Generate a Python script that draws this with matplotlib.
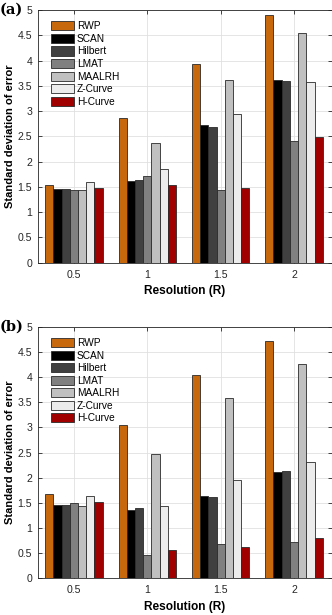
import numpy as np
import matplotlib
matplotlib.use("Agg")
import matplotlib.pyplot as plt

# ---- data ----
resolutions = [0.5, 1, 1.5, 2]
methods = ["RWP", "SCAN", "Hilbert", "LMAT", "MAALRH", "Z-Curve", "H-Curve"]
colors = ["#c8680c", "#000000", "#404040", "#808080", "#c0c0c0", "#ececec", "#a00000"]

# panel (a): one list per method, values at each resolution
std_a_rwp = [1.54, 2.86, 3.94, 4.90]
std_a_scan = [1.46, 1.61, 2.73, 3.62]
std_a_hilbert = [1.46, 1.64, 2.68, 3.60]
std_a_lmat = [1.44, 1.71, 1.44, 2.41]
std_a_maalrh = [1.44, 2.36, 3.62, 4.55]
std_a_zcurve = [1.59, 1.85, 2.95, 3.58]
std_a_hcurve = [1.47, 1.53, 1.48, 2.49]

# panel (b)
std_b_rwp = [1.68, 3.05, 4.04, 4.71]
std_b_scan = [1.46, 1.36, 1.64, 2.11]
std_b_hilbert = [1.46, 1.39, 1.62, 2.13]
std_b_lmat = [1.49, 0.46, 0.69, 0.73]
std_b_maalrh = [1.44, 2.47, 3.58, 4.25]
std_b_zcurve = [1.64, 1.44, 1.96, 2.32]
std_b_hcurve = [1.51, 0.57, 0.62, 0.80]

panel_a = [std_a_rwp, std_a_scan, std_a_hilbert, std_a_lmat,
           std_a_maalrh, std_a_zcurve, std_a_hcurve]
panel_b = [std_b_rwp, std_b_scan, std_b_hilbert, std_b_lmat,
           std_b_maalrh, std_b_zcurve, std_b_hcurve]

plt.rcParams['font.family'] = ['Liberation Sans', 'DejaVu Sans']

fig = plt.figure(figsize=(3.32, 6.15), dpi=100, facecolor="white")

BAR_W = 0.056


def draw_panel(ax, series, tag):
    x = np.array(resolutions)
    for i, (vals, name, col) in enumerate(zip(series, methods, colors)):
        ax.bar(x + (i - 3) * BAR_W, vals, BAR_W, color=col, edgecolor="#2a2a2a",
               linewidth=0.6, label=name, zorder=3)
    ax.set_xlim(0.253, 2.257)
    ax.set_ylim(0, 5)
    ax.set_xticks(resolutions)
    ax.set_xticklabels(["0.5", "1", "1.5", "2"])
    ax.set_yticks(np.arange(0, 5.01, 0.5))
    ax.set_yticklabels(["0", "0.5", "1", "1.5", "2", "2.5", "3", "3.5", "4", "4.5", "5"])
    ax.grid(True, color="#e0e0e0", linewidth=0.6, zorder=0)
    ax.tick_params(direction="in", length=3, width=0.6, labelsize=7.6,
                   top=True, right=True, pad=4, colors="#262626")
    ax.tick_params(axis="x", pad=5)
    for s in ax.spines.values():
        s.set_linewidth(0.6)
        s.set_color("#262626")
    ax.set_xlabel("Resolution (R)", fontsize=8.6, fontweight="bold", labelpad=4)
    ax.set_ylabel("Standard deviation of error", fontsize=8.0, fontweight="bold", labelpad=1.5)
    ax.legend(loc="upper left", frameon=False, fontsize=7.3, handlelength=2.3,
              handleheight=1.0, labelspacing=0.25, handletextpad=0.25,
              borderpad=0, borderaxespad=0, bbox_to_anchor=(0.045, 0.955))
    ax.text(-0.128, 1.0, tag, transform=ax.transAxes, fontsize=10.5, fontweight="bold",
            family="DejaVu Serif", ha="left", va="center")


ax_a = fig.add_axes([0.1136, 0.5728, 0.8854, 0.411])
draw_panel(ax_a, panel_a, "(a)")

ax_b = fig.add_axes([0.1136, 0.0597, 0.8854, 0.409])
draw_panel(ax_b, panel_b, "(b)")

fig.savefig("out.png", dpi=100, facecolor="white")
